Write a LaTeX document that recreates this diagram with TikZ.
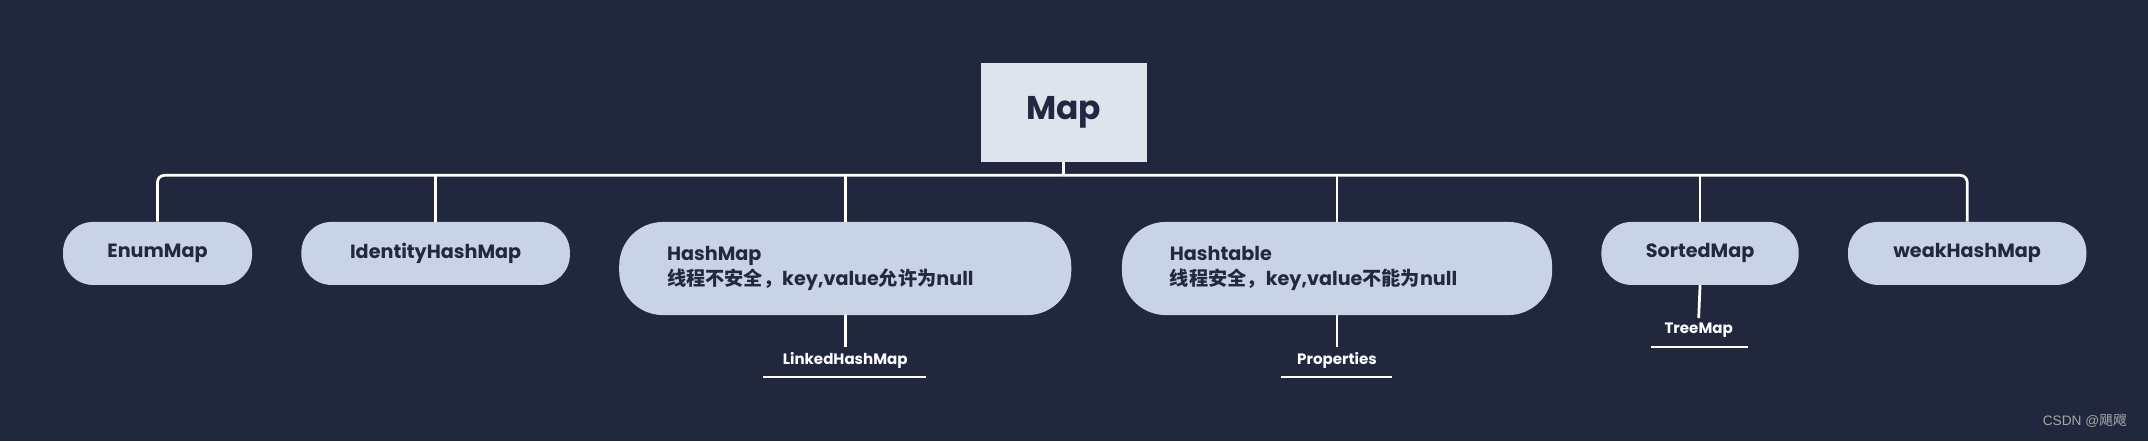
\documentclass[tikz,border=0pt]{standalone}
\usepackage{fontspec}
\setmainfont{Poppins}
\newfontfamily\cjk{Noto Sans CJK SC}
\begin{document}
\begin{tikzpicture}[x=1pt,y=-1pt,
  box/.style={fill=boxc,rounded corners=22pt,font=\bfseries\fontsize{14}{18}\selectfont,text=darkc,inner sep=0pt},
  wire/.style={draw=white,line width=2pt,rounded corners=5pt},
  child/.style={text=white,font=\bfseries\fontsize{11}{13}\selectfont}]
\definecolor{bg}{HTML}{21273C}
\definecolor{boxc}{HTML}{C8D3E6}
\definecolor{darkc}{HTML}{222841}
\definecolor{mapc}{HTML}{DFE3EC}
\fill[bg] (0,0) rectangle (1568,322);
\useasboundingbox (0,0) rectangle (1568,322);
\node[fill=mapc,minimum width=121pt,minimum height=72pt,font=\bfseries\fontsize{24}{28}\selectfont,text=darkc] (map) at (776.5,82) {Map};
\node[box,minimum width=138pt,minimum height=46pt] (enum) at (115,185) {EnumMap};
\node[box,minimum width=196pt,minimum height=46pt] (ident) at (318,185) {IdentityHashMap};
\node[box,minimum width=330pt,minimum height=68pt,rounded corners=32pt] (hash) at (617,196) {\parbox{260pt}{HashMap\\{\cjk 线程不安全，}key,value{\cjk 允许为}null}};
\node[box,minimum width=314pt,minimum height=68pt,rounded corners=32pt] (htab) at (976,196) {\parbox{244pt}{Hashtable\\{\cjk 线程安全，}key,value{\cjk 不能为}null}};
\node[box,minimum width=144pt,minimum height=46pt] (sorted) at (1241,185) {SortedMap};
\node[box,minimum width=174pt,minimum height=46pt] (weak) at (1436,185) {weakHashMap};
\coordinate (j) at (776.5,128);
\draw[wire] (map.south) -- (j);
\draw[wire] (enum.north) |- (j);
\draw[wire] (weak.north) |- (j);
\draw[wire] (ident.north) -- ++(0,-34);
\draw[wire] (hash.north) -- ++(0,-34);
\draw[wire] (htab.north) -- ++(0,-34);
\draw[wire] (sorted.north) -- ++(0,-34);
\node[child] (lhm) at (617,263) {LinkedHashMap};
\node[child] (prop) at (976,263) {Properties};
\node[child] (tree) at (1240,241) {TreeMap};
\draw[wire] (hash.south) -- (lhm.north);
\draw[wire] (htab.south) -- (prop.north);
\draw[wire] (sorted.south) -- (tree.north);
\draw[white,line width=1.5pt] (557,275) -- (676,275) (935,275) -- (1016,275) (1205,253) -- (1276,253);
\node[text=gray!70,anchor=east,font=\fontsize{10}{12}\selectfont] (wm) at (1556,307) {\fontspec{Liberation Sans}CSDN @{\cjk 飓飕}};
\end{tikzpicture}
\end{document}
